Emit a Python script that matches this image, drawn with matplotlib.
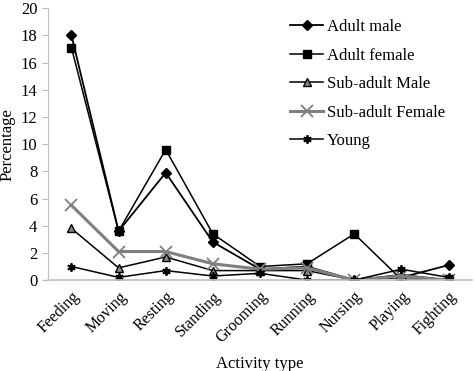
import matplotlib
matplotlib.use("Agg")
import matplotlib.pyplot as plt

plt.rcParams['font.family'] = ['Liberation Serif', 'DejaVu Serif']

activities = ["Feeding", "Moving", "Resting", "Standing", "Grooming",
              "Running", "Nursing", "Playing", "Fighting"]
adult_male = [18.0, 3.6, 7.9, 2.8, 0.8, 1.0, 0.0, 0.2, 1.1]
adult_female = [17.1, 3.6, 9.6, 3.4, 1.0, 1.2, 3.4, 0.05, 0.1]
subadult_male = [3.8, 0.9, 1.7, 0.7, 0.7, 0.7, 0.0, 0.4, 0.0]
subadult_female = [5.5, 2.1, 2.1, 1.2, 0.8, 0.9, 0.0, 0.3, 0.0]
young = [1.0, 0.2, 0.7, 0.3, 0.5, 0.0, 0.0, 0.8, 0.2]

fig = plt.figure(figsize=(4.74, 3.71), dpi=100)
ax = fig.add_axes([0.101, 0.245, 0.895, 0.733])

x = list(range(len(activities)))
ax.plot(x, adult_male, color='black', lw=1.3, marker='D', ms=5, label='Adult male')
ax.plot(x, adult_female, color='black', lw=1.1, marker='s', ms=6, label='Adult female')
ax.plot(x, subadult_male, color='black', lw=1.1, marker='^', ms=6,
        markerfacecolor='#888888', markeredgecolor='black', label='Sub-adult Male')
ax.plot(x, subadult_female, color='#7f7f7f', lw=2.2, marker='x', ms=9, mew=1.3,
        label='Sub-adult Female')
ax.plot(x, young, color='black', lw=1.1, marker=(6, 2, 0), ms=6, mew=1.3, label='Young')

ax.set_xlim(-0.5, 8.5)
ax.set_ylim(0, 20)
ax.set_yticks(range(0, 21, 2))
ax.set_xticks(x)
ax.set_xticklabels(activities, rotation=45, ha='right', rotation_mode='anchor', fontsize=11.5)
ax.tick_params(axis='y', labelsize=12, length=4, color='#bfbfbf')
ax.tick_params(axis='x', length=0, pad=6)

for s in ['top', 'right']:
    ax.spines[s].set_visible(False)
ax.spines['left'].set_color('#bfbfbf')
ax.spines['bottom'].set_color('#bfbfbf')
ax.spines['bottom'].set_linewidth(1.2)

ax.set_ylabel('Percentage', fontsize=12)
ax.set_xlabel('Activity type', fontsize=12, labelpad=7)

ax.legend(loc='upper left', bbox_to_anchor=(0.535, 1.015), frameon=False, fontsize=12,
          handlelength=2.0, handletextpad=0.2, labelspacing=0.75)

fig.savefig('out.png', dpi=100)
